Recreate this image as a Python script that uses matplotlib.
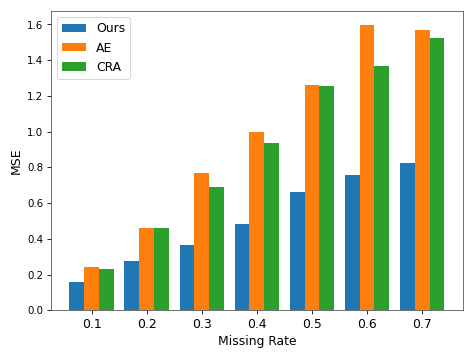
import numpy as np
import matplotlib
matplotlib.use("Agg")
import matplotlib.pyplot as plt

# missing rates and MSE per method
rates = ["0.1", "0.2", "0.3", "0.4", "0.5", "0.6", "0.7"]
ours = [0.16, 0.278, 0.364, 0.485, 0.662, 0.759, 0.824]
ae = [0.244, 0.462, 0.766, 0.995, 1.262, 1.594, 1.568]
cra = [0.233, 0.459, 0.692, 0.934, 1.257, 1.365, 1.523]

x = np.arange(len(rates))
w = 0.27

fig, ax = plt.subplots(figsize=(6.4, 4.8), dpi=74)
ax.bar(x - w, ours, w, label="Ours", color="#1f77b4")
ax.bar(x, ae, w, label="AE", color="#ff7f0e")
ax.bar(x + w, cra, w, label="CRA", color="#2ca02c")

ax.set_xticks(x)
ax.set_xticklabels(rates, fontsize=12)
ax.tick_params(axis="y", labelsize=10)
ax.set_xlabel("Missing Rate", fontsize=12)
ax.set_ylabel("MSE", fontsize=12)
ax.legend(fontsize=12, loc="upper left")
for s in ax.spines.values():
    s.set_color("#555555")

fig.subplots_adjust(left=0.107, right=0.978, top=0.968, bottom=0.126)
fig.savefig("out.png")
